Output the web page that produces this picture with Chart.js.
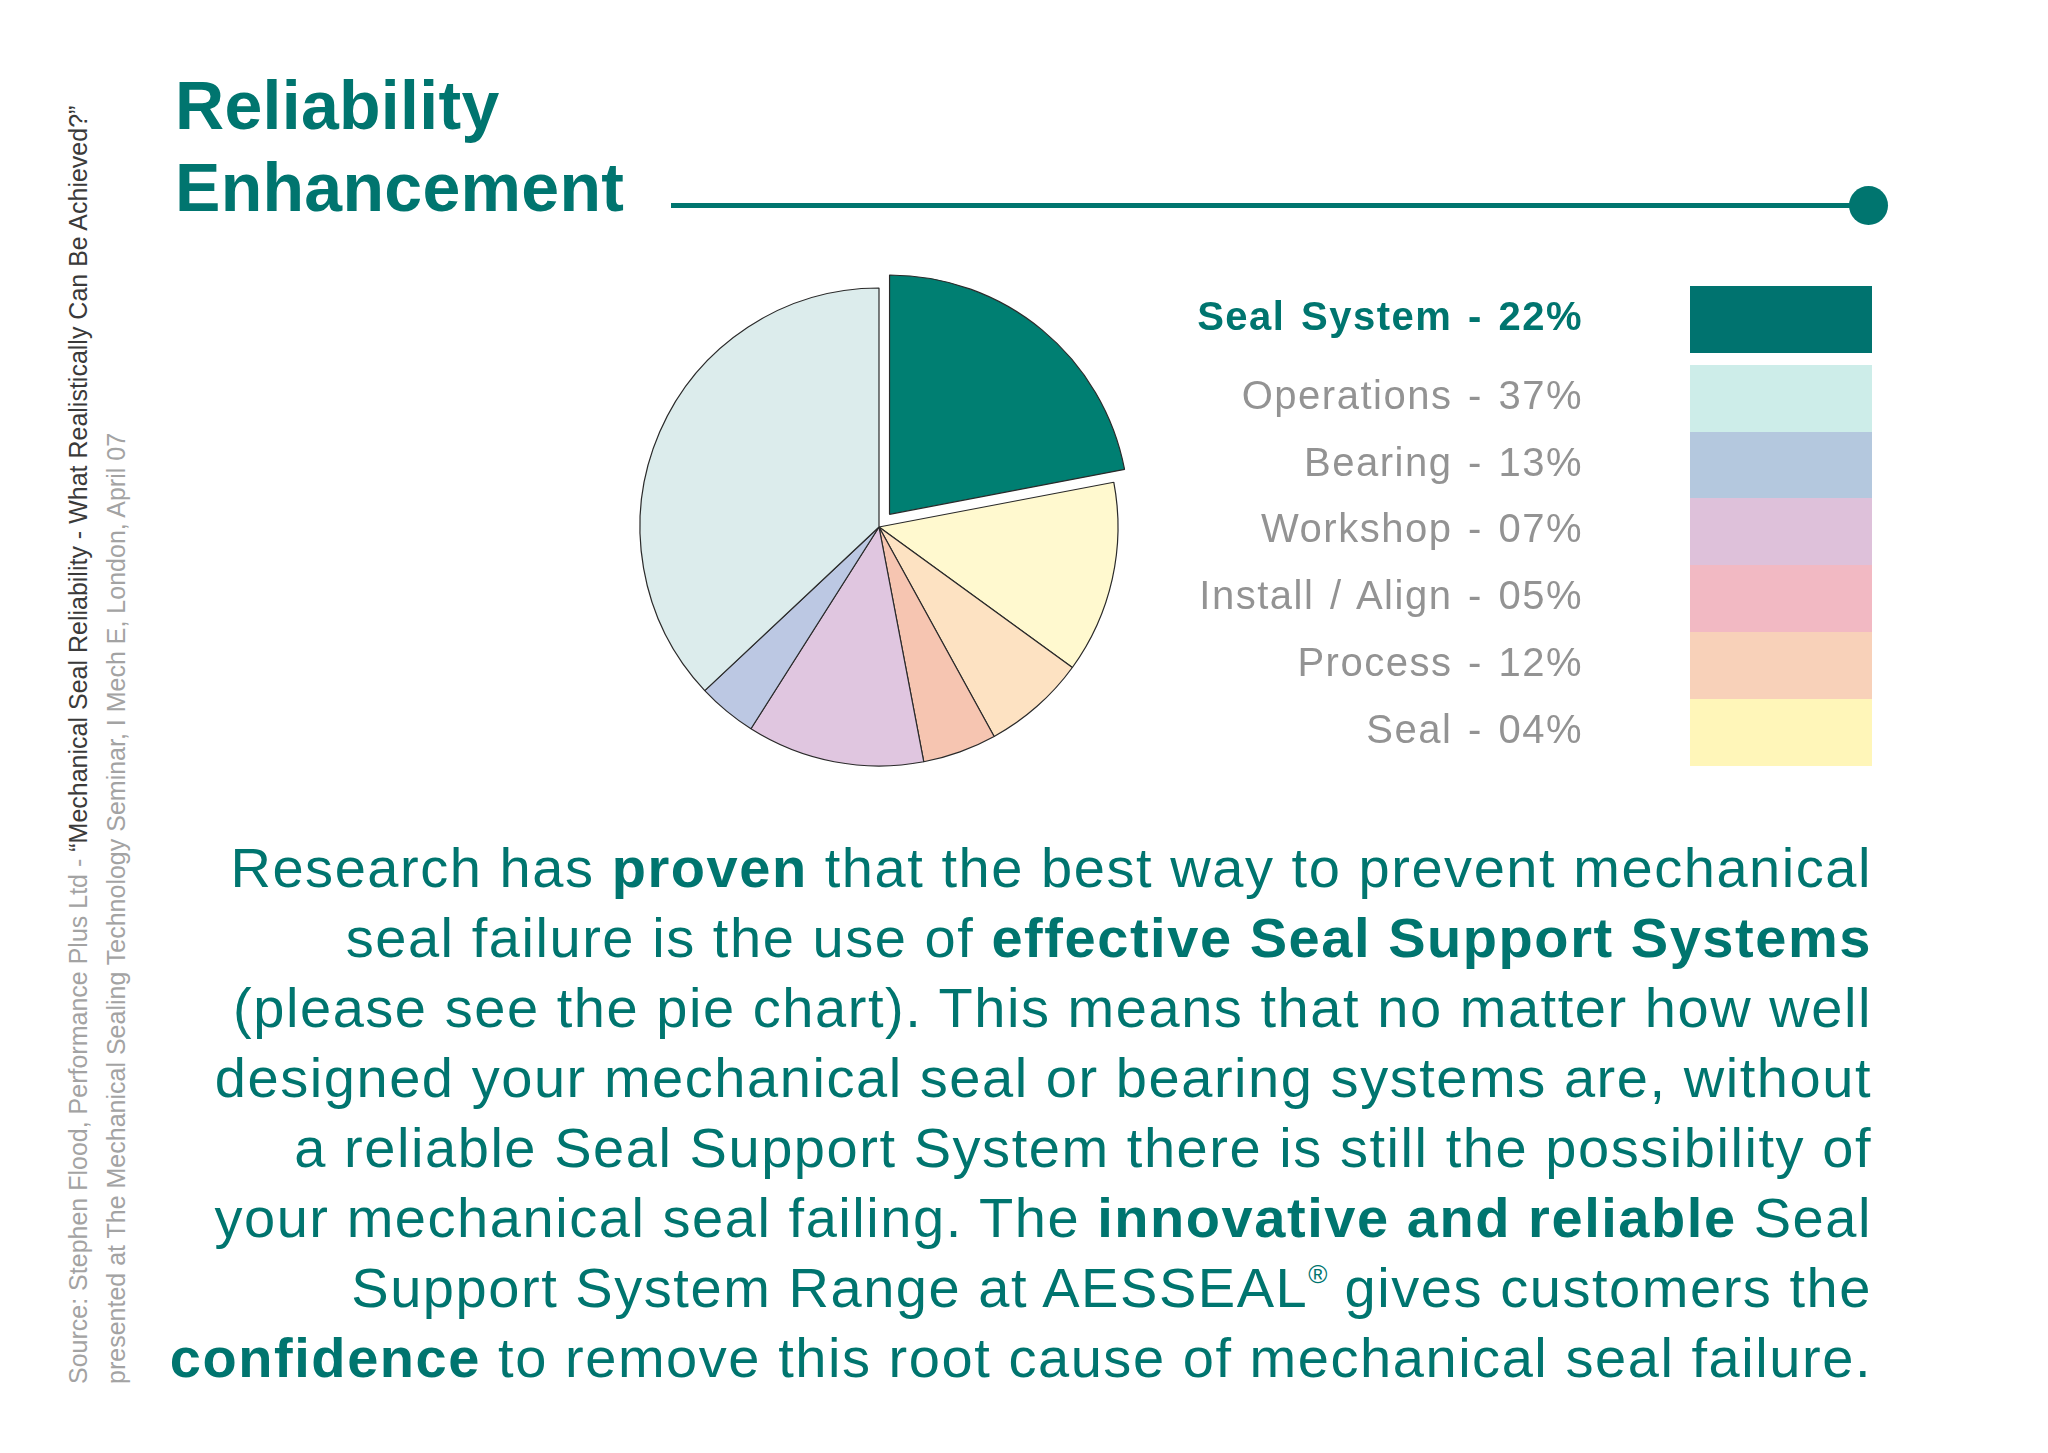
<!DOCTYPE html>
<html>
<head>
<meta charset="utf-8">
<script src="https://cdn.jsdelivr.net/npm/chart.js@4.4.1/dist/chart.umd.min.js"></script>
<style>
  html, body { margin: 0; padding: 0; background: #fff; }
  body { width: 2048px; height: 1453px; position: relative; overflow: hidden;
         font-family: "Liberation Sans", Arial, Helvetica, sans-serif; }
  .abs { position: absolute; white-space: nowrap; }
  #title { left: 175px; top: 64px; font-size: 68px; line-height: 82px; font-weight: bold; color: #00756f; letter-spacing: 0.3px; }
  #rule { left: 671px; top: 203px; width: 1198px; height: 5px; background: #00756f; }
  #dot { left: 1849px; top: 186px; width: 39px; height: 39px; border-radius: 50%; background: #00756f; }
  #pie-wrap { left: 599px; top: 247px; width: 560px; height: 560px; }
  .leg-text { font-size: 40px; line-height: 40px; letter-spacing: 1.5px; word-spacing: 3px; color: #939393; text-align: right; width: 800px; }
  .leg-text.hi { color: #00756f; font-weight: bold; }
  .leg-box { left: 1690px; width: 182px; }
  #body-text { right: 176px; top: 833px; font-size: 56px; line-height: 70px; letter-spacing: 1.55px; color: #00756f; text-align: right; }
  #body-text b { font-weight: bold; }
  #body-text sup { font-size: 26px; vertical-align: 24px; line-height: 0; letter-spacing: 0; }
  .src { font-size: 25px; line-height: 25px; color: #a3a3a3; transform: rotate(-90deg); transform-origin: 0 0; }
  .src .q { color: #3a3a3a; }
</style>
</head>
<body>
<div id="title" class="abs">Reliability<br>Enhancement</div>
<div id="rule" class="abs"></div>
<div id="dot" class="abs"></div>

<div id="pie-wrap" class="abs"><canvas id="pie" width="560" height="560"></canvas></div>
<div id="legend"></div>

<div id="body-text" class="abs">
  <div>Research has <b>proven</b> that the best way to prevent mechanical</div>
  <div>seal failure is the use of <b>effective Seal Support Systems</b></div>
  <div>(please see the pie chart). This means that no matter how well</div>
  <div>designed your mechanical seal or bearing systems are, without</div>
  <div>a reliable Seal Support System there is still the possibility of</div>
  <div>your mechanical seal failing. The <b>innovative and reliable</b> Seal</div>
  <div>Support System Range at AESSEAL<sup>®</sup> gives customers the</div>
  <div><b>confidence</b> to remove this root cause of mechanical seal failure.</div>
</div>

<div class="abs src" style="left:66px; top:1384px;">Source: Stephen Flood, Performance Plus Ltd - <span class="q">“Mechanical Seal Reliability - What Realistically Can Be Achieved?”</span></div>
<div class="abs src" style="left:104px; top:1384px;">presented at The Mechanical Sealing Technology Seminar, I Mech E, London, April 07</div>

<script>
// categories in the order of the legend
const categories = ['Seal System', 'Operations', 'Bearing', 'Workshop', 'Install / Align', 'Process', 'Seal'];
const shares = [22, 37, 13, 7, 5, 12, 4];
const legendColors = ['#00736f', '#cdede9', '#b4c8de', '#dec1da', '#f2b9c3', '#f8d1b9', '#fff6b9'];
// colours and order the slices actually have in the pie (clockwise from 12 o'clock)
const pieColors = ['#007f72', '#dcecec', '#fff9cf', '#fde2c2', '#f6c5b1', '#e0c6e0', '#bcc8e3'];
const sliceOrder = [0, 2, 3, 4, 5, 6, 1];
const explodedSlice = 0;

function pct(v) {
  return String(v).padStart(2, '0') + '%';
}

// legend: text on the left, colour swatch on the right
const legendEl = document.getElementById('legend');
const firstTop = 286, boxH = 66.8, gap = 12;
categories.forEach((c, i) => {
  const top = i === 0 ? firstTop : firstTop + boxH + gap + (i - 1) * boxH;
  const box = document.createElement('div');
  box.className = 'abs leg-box';
  box.style.top = top + 'px';
  box.style.height = boxH + 'px';
  box.style.background = legendColors[i];
  legendEl.appendChild(box);

  const txt = document.createElement('div');
  txt.className = 'abs leg-text' + (i === 0 ? ' hi' : '');
  txt.textContent = c + ' - ' + pct(shares[i]);
  txt.style.left = (1583 - 800) + 'px';
  txt.style.top = (top + 44 - 34) + 'px';
  legendEl.appendChild(txt);
});

const ctx = document.getElementById('pie').getContext('2d');
new Chart(ctx, {
  type: 'pie',
  data: {
    labels: sliceOrder.map(i => categories[i]),
    datasets: [{
      data: sliceOrder.map(i => shares[i]),
      backgroundColor: sliceOrder.map(i => pieColors[i]),
      borderColor: '#2a2a2a',
      borderWidth: 1.2,
      // chart.js moves an arc by offset / 4
      offset: sliceOrder.map(i => i === explodedSlice ? 66 : 0)
    }]
  },
  options: {
    responsive: false,
    animation: false,
    radius: 239,
    layout: { padding: 0 },
    plugins: {
      legend: { display: false },
      tooltip: { enabled: false }
    }
  }
});
</script>
</body>
</html>
